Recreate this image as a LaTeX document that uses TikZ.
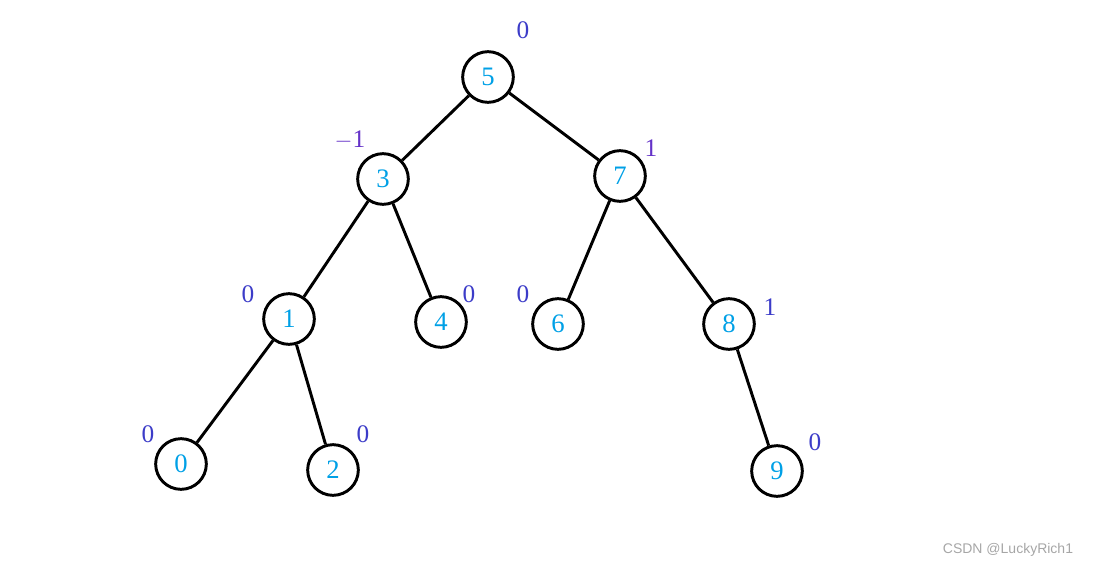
\documentclass[tikz,border=0pt]{standalone}
\usepackage{fontspec}
\setmainfont{Liberation Serif}
\newfontfamily\wm{Liberation Sans}
\definecolor{nodetxt}{RGB}{0,160,230}
\definecolor{bf}{RGB}{60,60,200}
\definecolor{bfp}{RGB}{100,50,200}
\begin{document}
\begin{tikzpicture}[x=0.75pt,y=-0.75pt,
  tn/.style={circle,draw=black,line width=2.2pt,minimum size=38pt,inner sep=0pt,text=nodetxt,font=\fontsize{20}{24}\selectfont},
  lb/.style={text=bf,font=\fontsize{19}{22}\selectfont},
  ed/.style={line width=2.2pt}]
\useasboundingbox (0,0) rectangle (1093,568);
\node[tn] (n5) at (488,77) {5};
\node[tn] (n3) at (383,179) {3};
\node[tn] (n7) at (620,176) {7};
\node[tn] (n1) at (289,319) {1};
\node[tn] (n4) at (441,322) {4};
\node[tn] (n6) at (558,324) {6};
\node[tn] (n8) at (729,324) {8};
\node[tn] (n0) at (181,464) {0};
\node[tn] (n2) at (333,470) {2};
\node[tn] (n9) at (777,471) {9};
\draw[ed] (n5)--(n3); \draw[ed] (n5)--(n7);
\draw[ed] (n3)--(n1); \draw[ed] (n3)--(n4);
\draw[ed] (n7)--(n6); \draw[ed] (n7)--(n8);
\draw[ed] (n1)--(n0); \draw[ed] (n1)--(n2);
\draw[ed] (n8)--(n9);
\node[lb] (b5) at (523,30) {0};
\node[lb,text=bfp] (b3) at (350,140) {$-$1};
\node[lb,text=bfp] (b7) at (651,148) {1};
\node[lb] (b1) at (248,294) {0};
\node[lb] (b4) at (469,294) {0};
\node[lb] (b6) at (523,294) {0};
\node[lb] (b8) at (770,307) {1};
\node[lb] (b0) at (148,434) {0};
\node[lb] (b2) at (363,434) {0};
\node[lb] (b9) at (815,442) {0};
\node[text=gray!70,font=\wm\fontsize{10.5}{12}\selectfont] (wm) at (1008,550) {CSDN @LuckyRich1};
\end{tikzpicture}
\end{document}
